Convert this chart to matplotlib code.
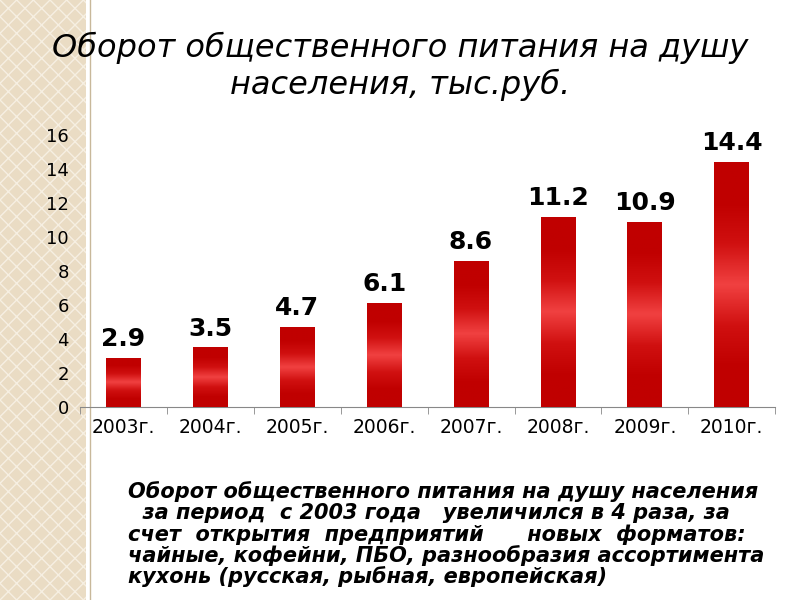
import matplotlib
matplotlib.use("Agg")
import matplotlib.pyplot as plt
import numpy as np
from matplotlib.patches import Rectangle
from matplotlib.colors import LinearSegmentedColormap

categories = ["2003г.", "2004г.", "2005г.", "2006г.", "2007г.", "2008г.", "2009г.", "2010г."]
values = [2.9, 3.5, 4.7, 6.1, 8.6, 11.2, 10.9, 14.4]
yticks = [0, 2, 4, 6, 8, 10, 12, 14, 16]

fig = plt.figure(figsize=(8, 6), dpi=100)
fig.patch.set_facecolor("white")

# decorative left strip
strip = Rectangle((0, 0), 0.107, 1, transform=fig.transFigure, facecolor="#eadcc4",
                  edgecolor="#f6efe2", hatch="xx", linewidth=0, zorder=-5)
fig.patches.append(strip)
fig.add_artist(plt.Line2D([0.113, 0.113], [0, 1], transform=fig.transFigure, color="#c8b89a", lw=1, zorder=-4))

ax = fig.add_axes([0.1, 0.3217, 0.869, 0.4533], zorder=2)
ax.patch.set_alpha(0)
x = np.arange(len(categories))
bars = ax.bar(x, values, width=0.4, color="#c00000", zorder=2)
grad = np.abs(np.linspace(-1, 1, 200))[:, None]
cmap = LinearSegmentedColormap.from_list("r", ["#f04040", "#d01010", "#c00000", "#c00000"])
for b, v in zip(bars, values):
    im = ax.imshow(grad, cmap=cmap, aspect="auto", extent=[b.get_x(), b.get_x() + b.get_width(), 0, v], zorder=3)
    im.set_clip_path(b)
    ax.text(b.get_x() + b.get_width() / 2, v + 0.4, f"{v:.1f}", ha="center", va="bottom",
            fontsize=18, fontweight="bold", color="black")

ax.set_xlim(-0.5, len(categories) - 0.5)
ax.set_ylim(0, 16)
ax.set_yticks(yticks)
ax.set_xticks(x)
ax.set_xticklabels(categories, fontsize=13.5)
ax.tick_params(axis="y", labelsize=13, length=0, pad=8)
ax.set_xticks(np.arange(-0.5, len(categories)), minor=True)
ax.tick_params(axis="x", which="major", length=0, pad=8)
ax.tick_params(axis="x", which="minor", length=5, color="#888888")
for s in ["top", "right", "left"]:
    ax.spines[s].set_visible(False)
ax.spines["bottom"].set_color("#888888")

fig.text(0.5, 0.92, "Оборот общественного питания на душу", ha="center", va="center",
         fontsize=23, style="italic")
fig.text(0.5, 0.858, "населения, тыс.руб.", ha="center", va="center", fontsize=23, style="italic")

lines = ["Оборот общественного питания на душу населения",
         "  за период  с 2003 года   увеличился в 4 раза, за",
         "счет  открытия  предприятий      новых  форматов:",
         "чайные, кофейни, ПБО, разнообразия ассортимента",
         "кухонь (русская, рыбная, европейская)"]
ys = [492, 513, 535, 556, 577]
for t, y in zip(lines, ys):
    fig.text(0.16, 1 - y / 600, t, ha="left", va="center", fontsize=15, fontweight="bold", style="italic")

fig.savefig("out.png", dpi=100)
